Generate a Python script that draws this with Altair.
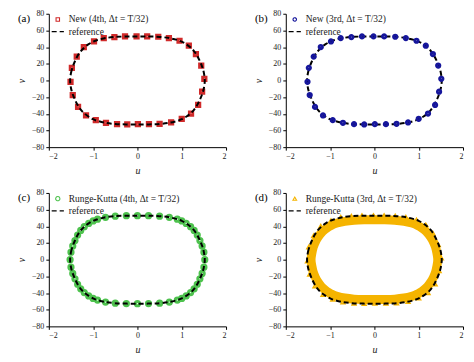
import altair as alt
import pandas as pd

# reference closed orbit (u, v)
ref_u = [-1.52, -1.50, -1.46, -1.41, -1.35, -1.28, -1.20, -1.10, -1.00, -0.90, -0.72, -0.50, -0.25,
         0.00, 0.25, 0.50, 0.72, 0.90, 1.00, 1.10, 1.20, 1.28, 1.35, 1.41, 1.46, 1.50,
         1.52, 1.50, 1.46, 1.41, 1.35, 1.28, 1.20, 1.10, 1.00, 0.90, 0.72, 0.50, 0.25,
         0.00, -0.25, -0.50, -0.72, -0.90, -1.00, -1.10, -1.20, -1.28, -1.35, -1.41, -1.46, -1.50]
ref_v = [0, 9, 16.5, 23, 29.5, 35, 39.5, 43.5, 46.5, 48.5, 50.8, 52.2, 52.7,
         52.8, 52.7, 52.2, 50.8, 48.5, 46.5, 43.5, 39.5, 35, 29.5, 23, 16.5, 9,
         0, -9, -16.5, -23, -29.5, -35, -39.5, -43.5, -46.5, -48.5, -50.8, -52.2, -52.7,
         -52.8, -52.7, -52.2, -50.8, -48.5, -46.5, -43.5, -39.5, -35, -29.5, -23, -16.5, -9]

# new scheme markers (32 per period)
new_u = [-1.48, -1.37, -1.21, -0.98, -0.76, -0.52, -0.28, -0.02, 0.22, 0.47, 0.71, 0.95, 1.16, 1.32, 1.44, 1.51,
         1.46, 1.37, 1.21, 1.00, 0.76, 0.50, 0.26, 0.01, -0.23, -0.46, -0.71, -0.94, -1.16, -1.34, -1.46, -1.51]
new_v = [15.1, 28.6, 40.1, 46.8, 50.8, 52.0, 52.8, 52.8, 52.8, 52.4, 50.8, 47.6, 41.7, 31.7, 17.9, 2.0,
         -13.5, -29.4, -39.7, -46.0, -50.4, -52.0, -52.4, -52.4, -52.8, -52.4, -50.8, -47.6, -42.0, -31.7, -17.5, -1.6]

# RK3 decaying orbit: centre line of the band
band_u = [-1.43, -1.41, -1.38, -1.33, -1.27, -1.20, -1.12, -1.03, -0.94, -0.84, -0.67, -0.46, -0.23,
          0.00, 0.23, 0.46, 0.67, 0.84, 0.94, 1.03, 1.12, 1.20, 1.27, 1.33, 1.38, 1.41,
          1.43, 1.41, 1.38, 1.33, 1.27, 1.20, 1.12, 1.03, 0.94, 0.84, 0.67, 0.46, 0.23,
          0.00, -0.23, -0.46, -0.67, -0.84, -0.94, -1.03, -1.12, -1.20, -1.27, -1.33, -1.38, -1.41]
band_v = [0, 8, 15, 21.5, 27, 32, 36, 39.5, 42, 44, 46, 47.3, 47.8,
          47.9, 47.8, 47.3, 46, 44, 42, 39.5, 36, 32, 27, 21.5, 15, 8,
          0, -8, -15, -21.5, -27, -32, -36, -39.5, -42, -44, -46, -47.3, -47.8,
          -47.9, -47.8, -47.3, -46, -44, -42, -39.5, -36, -32, -27, -21.5, -15, -8]

labels = ["New (4th, \u0394t = T/32)", "New (3rd, \u0394t = T/32)",
          "Runge-Kutta (4th, \u0394t = T/32)", "Runge-Kutta (3rd, \u0394t = T/32)"]
tags = ["(a)", "(b)", "(c)", "(d)"]
colors = ["#d02a2a", "#16169c", "#4ec24e", "#f5b400"]
shapes = ["square", "circle", "circle", "triangle-up"]
REF = "reference"
x_ticks = [-2, -1, 0, 1, 2]
y_ticks = [-80, -60, -40, -20, 0, 20, 40, 60, 80]

FONT = "Liberation Serif"

ref_df = pd.DataFrame({"u": ref_u, "v": ref_v, "i": list(range(len(ref_u))), "series": REF})
band_df = pd.DataFrame({"u": band_u, "v": band_v, "i": list(range(len(band_u)))})


def panel(k):
    lab = labels[k]
    dom = [lab, REF]
    xe = alt.X("u:Q", scale=alt.Scale(domain=[-2, 2], nice=False),
               axis=alt.Axis(values=x_ticks, title="u", format="d"))
    ye = alt.Y("v:Q", scale=alt.Scale(domain=[-80, 80], nice=False),
               axis=alt.Axis(values=y_ticks, title="v", format="d"))
    leg = alt.Legend(title=None, orient="none", legendX=2, legendY=1)
    col = alt.Color("series:N", scale=alt.Scale(domain=dom, range=[colors[k], "black"]), legend=leg)
    shp = alt.Shape("series:N", scale=alt.Scale(domain=dom, range=[shapes[k], "stroke"]), legend=leg)
    mk_size = [12, 12, 18, 14][k]
    siz = alt.Size("series:N", scale=alt.Scale(domain=dom, range=[mk_size, 150]), legend=leg)
    dash = alt.StrokeDash("series:N", scale=alt.Scale(domain=dom, range=[[1, 0], [5, 3]]), legend=leg)

    if k == 2:
        mk_df = pd.DataFrame({"u": ref_u, "v": ref_v, "series": lab})
    else:
        mk_df = pd.DataFrame({"u": new_u, "v": new_v, "series": lab})

    sw = [2.8, 2.8, 3.0, 1.6][k]
    pts = alt.Chart(mk_df).mark_point(filled=False, strokeWidth=sw, opacity=1).encode(
        x=xe, y=ye, color=col, shape=shp, size=siz)
    line = alt.Chart(ref_df).mark_line(interpolate="cardinal-closed", strokeWidth=2).encode(
        x=xe, y=ye, order=alt.Order("i:Q"), color=col, strokeDash=dash)

    if k == 1:
        layers = [line, pts]
    elif k == 3:
        band = alt.Chart(band_df).mark_line(interpolate="cardinal-closed", strokeWidth=9,
                                            color=colors[3]).encode(
            x=xe, y=ye, order=alt.Order("i:Q"))
        layers = [band, pts, line]
    else:
        layers = [pts, line]

    return alt.layer(*layers).properties(
        width=178, height=134,
        title=alt.TitleParams(tags[k], anchor="start", frame="group", dx=-31, dy=14,
                              fontSize=11, fontWeight="normal", font=FONT, offset=0),
    )


chart = alt.concat(*[panel(k) for k in range(4)], columns=2,
                   spacing={"row": 14, "column": 26}).resolve_scale(
    color="independent", shape="independent", size="independent", strokeDash="independent"
).properties(
    padding={"left": 8, "top": 1, "right": 2, "bottom": 2}
).configure_view(stroke=None).configure_axis(
    grid=False, domainColor="black", tickColor="black", tickSize=3,
    labelFont=FONT, labelFontSize=8, labelColor="#222", labelPadding=2,
    titleFont=FONT, titleFontSize=10, titleFontStyle="italic", titleFontWeight="normal",
    titleColor="#222", titlePadding=5,
).configure_legend(
    labelFont=FONT, labelFontSize=9.5, labelColor="#222", symbolStrokeWidth=1.1,
    rowPadding=-2, labelOffset=4, padding=0,
)

chart.save("out.html", embed_options={"renderer": "svg", "actions": False})
